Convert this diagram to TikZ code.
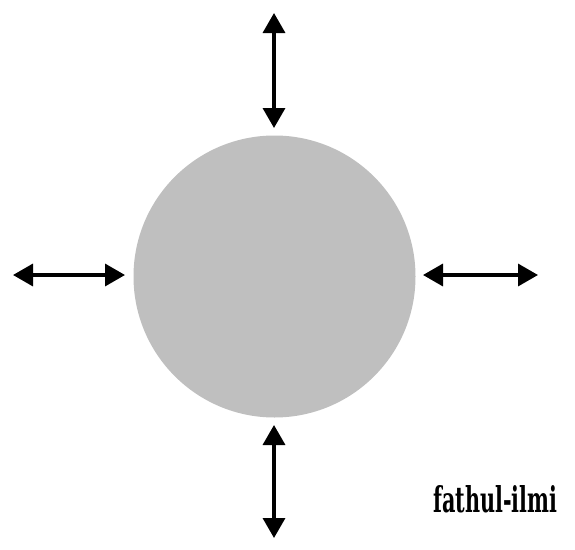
\documentclass[tikz,border=0pt]{standalone}
\usepackage{fontspec}
\usepackage{graphicx}
\newfontfamily\markfont{DejaVu Serif}
\usetikzlibrary{arrows.meta}
\definecolor{discgray}{RGB}{191,191,191}
\tikzset{
  dblarrow/.style={line width=2.6pt, {Triangle[length=15pt,width=16.5pt]}-{Triangle[length=15pt,width=16.5pt]}},
}
\begin{document}
\begin{tikzpicture}[x=0.75pt,y=-0.75pt]
\useasboundingbox (0,0) rectangle (575,550);
\fill[discgray] (274.5,276.5) circle[radius=141];
\node[inner sep=0,minimum size=282*0.75pt,circle] (disc) at (274.5,276.5) {};
\coordinate (t1) at (274,13);
\coordinate (t2) at (274,128);
\coordinate (b1) at (274,425);
\coordinate (b2) at (274,538);
\coordinate (l1) at (13,275);
\coordinate (l2) at (125,275);
\coordinate (r1) at (423,275);
\coordinate (r2) at (538,275);
\draw[dblarrow] (t1) -- (t2);
\draw[dblarrow] (b1) -- (b2);
\draw[dblarrow] (l1) -- (l2);
\draw[dblarrow] (r1) -- (r2);
\node[anchor=base west,inner sep=0] (mark) at (433,512) {\resizebox{93pt}{20.25pt}{\markfont\bfseries fathul-ilmi}};
\end{tikzpicture}
\end{document}
